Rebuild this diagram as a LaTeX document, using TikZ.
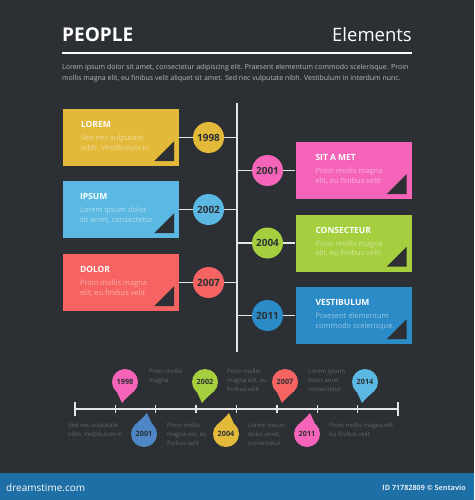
\documentclass[tikz,border=0pt]{standalone}
\usepackage{fontspec}
\setmainfont{Open Sans}
\usetikzlibrary{calc}
\definecolor{bgc}{HTML}{2C3034}
\definecolor{cyel}{HTML}{E3B93A}
\definecolor{clbl}{HTML}{5BB8E2}
\definecolor{ccor}{HTML}{F56362}
\definecolor{cpnk}{HTML}{F564B8}
\definecolor{clim}{HTML}{A5CF3E}
\definecolor{cblu}{HTML}{2A8BC6}
\definecolor{cbub}{HTML}{4F86C6}
\definecolor{cfoot}{HTML}{1E6FA6}
\definecolor{cline}{HTML}{E6E6E6}
\definecolor{cgrey}{HTML}{62676C}
\definecolor{cintro}{HTML}{B5B9BD}
\begin{document}
\begin{tikzpicture}[x=1pt,y=-1pt,
  card/.style={fill=#1, minimum width=116pt, minimum height=57pt, inner sep=0pt, draw=none},
  yearc/.style={circle, fill=#1, minimum size=31pt, inner sep=0pt, font=\bfseries\fontsize{10}{11}\selectfont, text=bgc},
  ttl/.style={anchor=base west, font=\bfseries\fontsize{8.5}{9}\selectfont, text=white, inner sep=0pt},
  bdy/.style={anchor=north west, align=left, font=\fontsize{7.5}{9.5}\selectfont, text=white!50!#1, inner sep=0pt},
  branch/.style={draw=cline, line width=1.6pt},
  bub/.style={circle, fill=#1, minimum size=26pt, inner sep=0pt, font=\bfseries\fontsize{7.3}{8}\selectfont, text=bgc},
  note/.style={anchor=north west, align=left, inner sep=0pt, font=\fontsize{6}{9}\selectfont, text=cgrey},
  corner/.style={fill=bgc}
]
\fill[bgc] (0,0) rectangle (474,500);
\useasboundingbox (0,0) rectangle (474,500);

% header
\node[anchor=base west, inner sep=0pt, font=\bfseries\fontsize{19}{20}\selectfont, text=white] (people) at (62,42) {PEOPLE};
\node[anchor=base east, inner sep=0pt, font=\fontsize{18.5}{20}\selectfont, text=white] (elements) at (412,42) {Elements};
\coordinate (hl) at (62,53);
\coordinate (hr) at (412,53);
\draw[white, line width=1.8pt] (hl) -- (hr);
\node[anchor=north west, inner sep=0pt, align=left, font=\fontsize{7}{10.5}\selectfont, text=cintro] (intro) at (62,64)
  {Lorem ipsum dolor sit amet, consectetur adipiscing elit. Praesent elementum commodo scelerisque. Proin\\
   mollis magna elit, eu finibus velit aliquet sit amet. Sed nec vulputate nibh. Vestibulum in interdum nunc.};

% vertical timeline
\coordinate (vt) at (237,103);
\coordinate (vb) at (237,352);
\draw[branch] (vt) -- (vb);

% cards
\node[card=cyel] (c1) at (121,137.5) {};
\node[card=clbl] (c2) at (121,209.5) {};
\node[card=ccor] (c3) at (121,282.5) {};
\node[card=cpnk] (c4) at (353.5,170.5) {};
\node[card=clim] (c5) at (353.5,243) {};
\node[card=cblu] (c6) at (353.5,315.5) {};

% branches
\draw[branch] (c1.east) -- (c1.east -| vt);
\draw[branch] (c2.east) -- (c2.east -| vt);
\draw[branch] (c3.east) -- (c3.east -| vt);
\draw[branch] (c4.west -| vt) -- (c4.west);
\draw[branch] (c5.west -| vt) -- (c5.west);
\draw[branch] (c6.west -| vt) -- (c6.west);

% corner triangles
\foreach \c in {c1,c2,c3,c4,c5,c6}{
  \fill[corner] ($(\c.south east)+(-5,-5)$) -- ++(0,-20) -- ++(-20,20) -- cycle;
}

% card texts
\node[ttl] (t1) at ($(c1.north west)+(18,19)$) {LOREM};
\node[bdy=cyel] (d1) at ($(c1.north west)+(18,26)$) {Sed nec vulputate\\nibh. Vestibulum in};
\node[ttl] (t2) at ($(c2.north west)+(17,19)$) {IPSUM};
\node[bdy=clbl] (d2) at ($(c2.north west)+(17,26)$) {Lorem ipsum dolor\\sit amet, consectetur};
\node[ttl] (t3) at ($(c3.north west)+(17,19)$) {DOLOR};
\node[bdy=ccor] (d3) at ($(c3.north west)+(17,26)$) {Proin mollis magna\\elit, eu finibus velit};
\node[ttl] (t4) at ($(c4.north west)+(20,19)$) {SIT A MET};
\node[bdy=cpnk] (d4) at ($(c4.north west)+(20,26)$) {Proin mollis magna\\elit, eu finibus velit};
\node[ttl] (t5) at ($(c5.north west)+(20,19)$) {CONSECTEUR};
\node[bdy=clim] (d5) at ($(c5.north west)+(20,26)$) {Proin mollis magna\\elit, eu finibus velit};
\node[ttl] (t6) at ($(c6.north west)+(20,19)$) {VESTIBULUM};
\node[bdy=cblu] (d6) at ($(c6.north west)+(20,26)$) {Praesent elementum\\commodo scelerisque.};

% year circles
\node[yearc=cyel] (y1) at (208.5,137.5) {1998};
\node[yearc=clbl] (y2) at (208.5,209.5) {2002};
\node[yearc=ccor] (y3) at (208.5,282.5) {2007};
\node[yearc=cpnk] (y4) at (267.5,170.5) {2001};
\node[yearc=clim] (y5) at (267.5,243) {2004};
\node[yearc=cblu] (y6) at (267.5,315.5) {2011};

% horizontal timeline
\coordinate (tl) at (75,409);
\coordinate (tr) at (398,409);
\draw[cline, line width=1.8pt] (tl) -- (tr);
\draw[cline, line width=1.8pt] ($(tl)+(0,-7)$) -- ($(tl)+(0,7)$);
\draw[cline, line width=1.8pt] ($(tr)+(0,-7)$) -- ($(tr)+(0,7)$);
\foreach \k in {1,...,7}{
  \draw[cline, line width=1.4pt] ($(tl)+(40.375*\k,-4)$) -- ($(tl)+(40.375*\k,4)$);
}

% bubbles above
\foreach \n/\x/\c/\yr in {b1/125/cpnk/1998, b3/205/clim/2002, b5/285/ccor/2007, b7/365/clbl/2014}{
  \fill[\c] (\x-9,382+8) -- (\x-3,382+21) .. controls (\x+1,382+16) and (\x+5,382+13) .. (\x+9,382+9) -- cycle;
  \node[bub=\c] (\n) at (\x,382) {\yr};
}
% bubbles below
\foreach \n/\x/\c/\yr in {b2/144/cbub/2001, b4/226/cyel/2004, b6/307/cpnk/2011}{
  \fill[\c] (\x+9,434-8) -- (\x+3,434-21) .. controls (\x-1,434-16) and (\x-5,434-13) .. (\x-9,434-9) -- cycle;
  \node[bub=\c] (\n) at (\x,434) {\yr};
}

% notes
\node[note] (n1) at (149,369) {Proin mollis\\magna};
\node[note] (n3) at (227,369) {Proin mollis\\magna elit, eu\\finibus velit};
\node[note] (n5) at (308,369) {Lorem ipsum\\dolor amet,\\consectetur};
\node[note] (n0) at (68,423) {Sed nec vulputate\\nibh. Vestibulum in};
\node[note] (n2) at (167,423) {Proin mollis\\magna elit, eu\\finibus velit};
\node[note] (n4) at (248,423) {Lorem ipsum\\dolor amet,\\consectetur};
\node[note] (n6) at (329,423) {Proin mollis magna elit,\\eu finibus velit};

% footer band
\fill[cfoot] (0,473) rectangle (474,500);
\node[anchor=west, inner sep=0pt, text=white, font=\fontsize{10}{12}\selectfont] (dt) at (6,488) {dreamstime.com};
\node[anchor=east, inner sep=0pt, text=white!85!cfoot, font=\bfseries\fontsize{7.2}{8}\selectfont] (id) at (466,488) {ID 71782809 © Sentavio};
\end{tikzpicture}
\end{document}
